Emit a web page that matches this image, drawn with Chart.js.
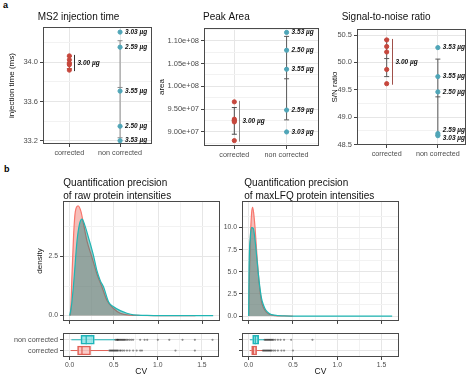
<!DOCTYPE html>
<html>
<head>
<meta charset="utf-8">
<script src="https://cdn.jsdelivr.net/npm/chart.js@4.4.1/dist/chart.umd.min.js"></script>
<style>
  body { margin: 0; background: #fff; width: 474px; height: 379px; position: relative; overflow: hidden; font-family: "Liberation Sans", Arial, sans-serif; }
  canvas { position: absolute; }
  .tag { position: absolute; font-weight: bold; font-size: 9px; line-height: 1; color: #000; }
</style>
</head>
<body>
<div class="tag" style="left:3px;top:1px">a</div>
<div class="tag" style="left:4px;top:165px">b</div>
<canvas id="ms2"></canvas>
<canvas id="area"></canvas>
<canvas id="sn"></canvas>
<canvas id="rawDens"></canvas>
<canvas id="lfqDens"></canvas>
<canvas id="rawBox"></canvas>
<canvas id="lfqBox"></canvas>
<script>
const groups = ['corrected', 'non corrected'];
const correctedLabel = '3.00 µg';

// a - MS2 injection time (ms)
const ms2Corrected = [34.065, 34.025, 33.99, 33.975, 33.92];
const ms2NonCorrected = [34.308, 34.154, 33.706, 33.347, 33.2];
const ms2NonLabels = ['3.03 µg', '2.59 µg', '3.55 µg', '2.50 µg', '3.53 µg'];
const ms2Mean = [33.995, 33.743];
const ms2Low = [33.935, 33.23];
const ms2High = [34.06, 34.22];
const ms2Ticks = [33.2, 33.6, 34.0];
const ms2Minor = [33.4, 33.8, 34.2];

// a - peak area
const areaCorrected = [9.66e7, 9.28e7, 9.25e7, 9.22e7, 8.81e7];
const areaNonCorrected = [1.1182e8, 1.0792e8, 1.0375e8, 9.48e7, 9.0e7];
const areaNonLabels = ['3.53 µg', '2.50 µg', '3.55 µg', '2.59 µg', '3.03 µg'];
const areaMean = [9.244e7, 1.0166e8];
const areaLow = [8.95e7, 9.265e7];
const areaHigh = [9.535e7, 1.1095e8];
const areaTicks = [9.0e7, 9.5e7, 1.0e8, 1.05e8, 1.1e8];
const areaMinor = [8.75e7, 9.25e7, 9.75e7, 1.025e8, 1.075e8, 1.125e8];

// a - signal-to-noise ratio
const snCorrected = [50.41, 50.29, 50.19, 49.87, 49.61];
const snNonCorrected = [50.27, 49.74, 49.46, 48.7, 48.66];
const snNonLabels = ['3.53 µg', '3.55 µg', '2.50 µg', '2.59 µg', '3.03 µg'];
const snMean = [50.07, 49.37];
const snLow = [49.74, 48.67];
const snHigh = [50.42, 50.06];
const snTicks = [48.5, 49.0, 49.5, 50.0, 50.5];
const snMinor = [48.75, 49.25, 49.75, 50.25];

// b - CV density curves
const cvTicks = [0, 0.5, 1.0, 1.5];
const cvMinor = [0.25, 0.75, 1.25];
const rawCorrX = [0, 0.008, 0.027, 0.045, 0.064, 0.095, 0.128, 0.158, 0.196, 0.252, 0.308, 0.365, 0.42, 0.495, 0.57, 0.67, 0.8, 1.0, 1.2, 1.42];
const rawCorrY = [0, 0.05, 1.76, 3.43, 4.4, 4.64, 4.4, 3.85, 3.15, 2.46, 1.76, 1.21, 0.65, 0.3, 0.1, 0.02, 0.005, 0, 0, 0];
const rawNonX = [0, 0.02, 0.045, 0.083, 0.113, 0.139, 0.169, 0.214, 0.27, 0.308, 0.346, 0.383, 0.44, 0.496, 0.571, 0.646, 0.72, 0.85, 1.0, 1.2, 1.4, 1.62];
const rawNonY = [0, 0.4, 1.35, 3.15, 3.9, 4.08, 3.85, 3.29, 2.53, 1.9, 1.48, 1.21, 0.58, 0.375, 0.21, 0.1, 0.03, 0.01, 0, 0, 0, 0];
const rawDensTicks = [0, 2.5];
const rawDensMinor = [1.25, 3.75];
const lfqCorrX = [0, 0.005, 0.019, 0.034, 0.045, 0.056, 0.072, 0.094, 0.12, 0.146, 0.169, 0.195, 0.233, 0.29, 0.4, 0.5];
const lfqCorrY = [0, 3, 8.6, 11.7, 12.27, 11.7, 10.0, 6.8, 3.6, 1.6, 0.9, 0.5, 0.2, 0.05, 0.01, 0];
const lfqNonX = [0, 0.004, 0.019, 0.034, 0.053, 0.072, 0.094, 0.12, 0.146, 0.169, 0.195, 0.233, 0.29, 0.4, 0.6, 0.8, 1.0, 1.2, 1.4, 1.62];
const lfqNonY = [0, 4.9, 8.95, 10.0, 9.88, 8.6, 6.4, 3.8, 1.96, 1.2, 0.66, 0.3, 0.1, 0.02, 0, 0, 0, 0, 0, 0];
const lfqDensTicks = [0, 2.5, 5, 7.5, 10];
const lfqDensMinor = [1.25, 3.75, 6.25, 8.75, 11.25];

// b - CV box plots: [whisker low, q1, median, q3, whisker high]
const rawBoxCorrected = [0.012, 0.09, 0.14, 0.237, 0.44];
const rawBoxNonCorrected = [0.02, 0.128, 0.188, 0.28, 0.515];
const rawOutCorrected = [0.45, 0.46, 0.47, 0.48, 0.49, 0.5, 0.51, 0.52, 0.53, 0.54, 0.55, 0.57, 0.58, 0.6, 0.62, 0.65, 0.68, 0.72, 0.76, 0.8, 0.82, 1.2, 1.42];
const rawOutNonCorrected = [0.52, 0.53, 0.54, 0.545, 0.55, 0.56, 0.57, 0.58, 0.59, 0.6, 0.61, 0.62, 0.63, 0.645, 0.66, 0.68, 0.7, 0.72, 0.8, 0.85, 0.88, 1.0, 1.13, 1.28, 1.42, 1.62];
const lfqBoxCorrected = [0.012, 0.034, 0.053, 0.09, 0.158];
const lfqBoxNonCorrected = [0.015, 0.045, 0.075, 0.113, 0.177];
const lfqOutCorrected = [0.16, 0.17, 0.18, 0.19, 0.2, 0.21, 0.22, 0.23, 0.24, 0.25, 0.26, 0.28, 0.3, 0.33, 0.37, 0.4, 0.5];
const lfqOutNonCorrected = [0.18, 0.19, 0.2, 0.21, 0.22, 0.23, 0.24, 0.25, 0.26, 0.27, 0.28, 0.3, 0.33, 0.36, 0.4, 0.48, 0.72];

const FONT = '"Liberation Sans", Arial, sans-serif';
const TXT = '#4d4d4d';
const GRID_MAJOR = '#e6e6e6';
const GRID_MINOR = '#f2f2f2';
const FRAME = '#4a4a4a';
const DOT_RED = '#c6473d';
const DOT_BLUE = '#4fa5b7';
const RED = '#F8766D';

Chart.defaults.font.family = FONT;

// grey border round the plot panel
const framePlugin = {
  id: 'frame',
  afterDatasetsDraw(chart) {
    const { ctx, chartArea: a } = chart;
    ctx.save();
    ctx.strokeStyle = FRAME;
    ctx.lineWidth = 1;
    ctx.strokeRect(Math.round(a.left) + 0.5, Math.round(a.top) + 0.5, Math.round(a.width) - 1, Math.round(a.height) - 1);
    ctx.restore();
  }
};

// left aligned panel title (one or two lines)
const titlePlugin = {
  id: 'panelTitle',
  afterDraw(chart, args, o) {
    if (!o || !o.lines) return;
    const ctx = chart.ctx;
    ctx.save();
    ctx.font = (o.size || 10) + 'px ' + FONT;
    ctx.fillStyle = '#111';
    ctx.textAlign = 'left';
    ctx.textBaseline = 'middle';
    o.lines.forEach((t, i) => ctx.fillText(t, o.x, o.y + i * (o.lead || 12.5)));
    ctx.restore();
  }
};

// amount labels next to the points, plus the bracket beside the corrected group
const dotLabelPlugin = {
  id: 'dotLabels',
  afterDatasetsDraw(chart, args, o) {
    if (!o || !o.values) return;
    const { ctx, scales: { x, y } } = chart;
    ctx.save();
    const bx = Math.round(x.getPixelForValue(1) + 5) + 0.5;
    const y0 = y.getPixelForValue(Math.min(...o.corrected));
    const y1 = y.getPixelForValue(Math.max(...o.corrected));
    ctx.strokeStyle = o.braceColor;
    ctx.lineWidth = 1;
    ctx.beginPath();
    ctx.moveTo(bx, y0 + 1);
    ctx.lineTo(bx, y1 - 1);
    ctx.stroke();
    ctx.font = 'italic bold 6.5px ' + FONT;
    ctx.fillStyle = '#111';
    ctx.textBaseline = 'middle';
    ctx.fillText(correctedLabel, bx + 3, (y0 + y1) / 2);
    const nx = x.getPixelForValue(2) + 5;
    o.values.forEach((v, i) => ctx.fillText(o.labels[i], nx, y.getPixelForValue(v) + (o.nudge ? o.nudge[i] : 0)));
    ctx.restore();
  }
};

Chart.register(framePlugin, titlePlugin, dotLabelPlugin);

function place(id, cv) {
  const c = document.getElementById(id);
  c.width = cv.w;
  c.height = cv.h;
  c.style.left = cv.x + 'px';
  c.style.top = cv.y + 'px';
  return c;
}

function base(cv, area, plugins) {
  return {
    responsive: false,
    animation: false,
    events: [],
    layout: { padding: { left: 0, top: area.t - cv.y, right: cv.x + cv.w - area.r, bottom: 0 } },
    plugins: Object.assign({ legend: { display: false }, tooltip: { enabled: false } }, plugins)
  };
}

function axis({ min, max, major, minor = [], label = () => '', size, title, titlePad, font = 7, tickLen = 3, pad = 2 }) {
  const all = major.map(v => ({ value: v })).concat(minor.map(v => ({ value: v, minor: true })))
    .sort((a, b) => a.value - b.value);
  return {
    type: 'linear', min, max, offset: false,
    afterBuildTicks: s => { s.ticks = all.map(t => Object.assign({}, t)); },
    afterFit: s => { if (s.isHorizontal()) s.height = size; else s.width = size; },
    border: { display: false },
    grid: {
      offset: false,
      color: c => (c.tick && c.tick.minor ? GRID_MINOR : GRID_MAJOR),
      tickColor: c => (c.tick && c.tick.minor ? 'rgba(0,0,0,0)' : '#444'),
      tickLength: tickLen,
      lineWidth: 1
    },
    ticks: {
      autoSkip: false, maxRotation: 0, minRotation: 0, padding: pad, color: TXT,
      font: { family: FONT, size: font },
      callback: (v, i, t) => (t[i] && t[i].minor ? '' : label(v))
    },
    title: title
      ? { display: true, text: title, color: '#111', font: { family: FONT, size: 8 }, padding: titlePad }
      : { display: false }
  };
}

function dotChart(id, cv, area, d) {
  const ds = [
    { data: d.corrected.map(v => ({ x: 1, y: v })), pointBackgroundColor: DOT_RED, pointBorderColor: DOT_RED, pointRadius: 2.1, order: 0 },
    { data: d.non.map(v => ({ x: 2, y: v })), pointBackgroundColor: DOT_BLUE, pointBorderColor: DOT_BLUE, pointRadius: 2.1, order: 0 }
  ];
  groups.forEach((g, i) => ds.push({
    data: [{ x: i + 1, y: d.low[i] }, { x: i + 1, y: d.high[i] }],
    showLine: true, borderColor: d.err[i], borderWidth: 1,
    pointStyle: 'line', pointRadius: 2.5, pointBorderColor: d.err[i], pointBorderWidth: 1, order: 2
  }));
  ds.push({ data: d.mean.map((m, i) => ({ x: i + 1, y: m })), pointStyle: 'line', pointRadius: 2.5, pointBorderColor: d.err, pointBorderWidth: 1, order: 1 });

  const opts = base(cv, area, {
    panelTitle: { lines: [d.title], x: d.titleX - cv.x, y: 17 - cv.y },
    dotLabels: { corrected: d.corrected, values: d.non, labels: d.labels, nudge: d.nudge, braceColor: d.brace }
  });
  opts.scales = {
    x: axis({ min: d.xMin, max: d.xMax, major: [1, 2], label: v => groups[v - 1], size: cv.y + cv.h - area.b, font: 7.2 }),
    y: axis({ min: d.yMin, max: d.yMax, major: d.ticks, minor: d.minor, label: d.fmt, size: area.l - cv.x, font: 7.5,
              title: d.yTitle, titlePad: { top: d.yTitleX - cv.x - 4.8, bottom: 0 } })
  };
  new Chart(place(id, cv), { type: 'scatter', data: { datasets: ds }, options: opts });
}

const curve = (xs, ys) => xs.map((x, i) => ({ x, y: ys[i] }));

function densityChart(id, cv, area, d) {
  const opts = base(cv, area, { panelTitle: { lines: d.title, x: d.titleX - cv.x, y: 183.5 - cv.y, lead: 12.5 } });
  opts.elements = { point: { radius: 0 }, line: { borderWidth: 1.2, cubicInterpolationMode: 'monotone' } };
  opts.scales = {
    x: axis({ min: -0.075, max: 1.697, major: cvTicks, minor: cvMinor, size: cv.y + cv.h - area.b }),
    y: axis({ min: d.yMin, max: d.yMax, major: d.ticks, minor: d.minor, label: v => v.toFixed(1), size: area.l - cv.x,
              font: 6.8, title: d.yTitle, titlePad: { top: (d.yTitleX || 0) - cv.x - 4.8, bottom: 0 } })
  };
  new Chart(place(id, cv), {
    type: 'line',
    data: { datasets: [
      { data: curve(d.nonX, d.nonY), borderColor: '#1fb5b3', backgroundColor: 'rgba(0,125,120,0.4)', fill: 'origin', order: 0 },
      { data: curve(d.corrX, d.corrY), borderColor: RED, backgroundColor: 'rgba(236,110,100,0.45)', fill: 'origin', order: 1 }
    ] },
    options: opts
  });
}

function boxChart(id, cv, area, boxes, outliers, showLabels, titleCV) {
  const line = ['#de5f55', '#22b3b7'];
  const fill = ['rgba(248,118,109,0.38)', 'rgba(0,191,196,0.38)'];
  const ds = [{
    type: 'bar', indexAxis: 'y',
    data: boxes.map((b, i) => ({ y: i + 1, x: [b[1], b[3]] })),
    backgroundColor: fill, borderColor: line, borderWidth: 1, borderSkipped: false, barThickness: 9, order: 1
  }];
  boxes.forEach((b, i) => ds.push({
    type: 'scatter', showLine: true, spanGaps: false,
    data: [{ x: b[0], y: i + 1 }, { x: b[1], y: i + 1 }, { x: null, y: null }, { x: b[3], y: i + 1 }, { x: b[4], y: i + 1 }],
    borderColor: line[i], borderWidth: 1, pointRadius: 0, order: 2
  }));
  ds.push({
    type: 'scatter', data: boxes.map((b, i) => ({ x: b[2], y: i + 1 })),
    pointStyle: 'line', pointRotation: 90, pointRadius: 4.5, pointBorderColor: line, pointBorderWidth: 1.2, order: 0
  });
  outliers.forEach((arr, i) => ds.push({
    type: 'scatter', data: arr.map(v => ({ x: v, y: i + 1 })),
    pointRadius: 1.1, pointBackgroundColor: 'rgba(0,0,0,0.4)', pointBorderWidth: 0, order: 0
  }));
  const opts = base(cv, area, {});
  opts.scales = {
    x: axis({ min: -0.075, max: 1.697, major: cvTicks, minor: cvMinor, label: v => v.toFixed(1), size: cv.y + cv.h - area.b,
              font: 6.8, pad: 1, title: titleCV, titlePad: { top: 0, bottom: 2 } }),
    y: axis({ min: 0.4, max: 2.6, major: [1, 2], label: showLabels ? v => groups[v - 1] : () => '', size: area.l - cv.x, font: 7.2 })
  };
  opts.scales.x.title.font = { family: FONT, size: 8.5 };
  new Chart(place(id, cv), { type: 'scatter', data: { datasets: ds }, options: opts });
}

dotChart('ms2', { x: 0, y: 10, w: 160, h: 150 }, { l: 43, t: 27, r: 152, b: 144 }, {
  corrected: ms2Corrected, non: ms2NonCorrected, labels: ms2NonLabels, mean: ms2Mean, low: ms2Low, high: ms2High,
  ticks: ms2Ticks, minor: ms2Minor, fmt: v => v.toFixed(1), yMin: 33.166, yMax: 34.36, xMin: 0.48, xMax: 2.63,
  title: 'MS2 injection time', titleX: 37.7, yTitle: 'injection time (ms)', yTitleX: 11.7,
  err: ['#a8483f', '#8c8c8c'], brace: '#333'
});
dotChart('area', { x: 150, y: 10, w: 180, h: 150 }, { l: 204, t: 28, r: 319, b: 146 }, {
  corrected: areaCorrected, non: areaNonCorrected, labels: areaNonLabels, mean: areaMean, low: areaLow, high: areaHigh,
  ticks: areaTicks, minor: areaMinor, fmt: v => v.toExponential(2).replace(/e\+(\d)$/, 'e+0$1'),
  yMin: 8.692e7, yMax: 1.1279e8, xMin: 0.42, xMax: 2.62,
  title: 'Peak Area', titleX: 203, yTitle: 'area', yTitleX: 162,
  err: ['#4d4d4d', '#595959'], brace: '#8a8a8a'
});
dotChart('sn', { x: 326, y: 10, w: 148, h: 150 }, { l: 357, t: 29, r: 466, b: 145 }, {
  corrected: snCorrected, non: snNonCorrected, labels: snNonLabels, mean: snMean, low: snLow, high: snHigh,
  ticks: snTicks, minor: snMinor, fmt: v => v.toFixed(1), yMin: 48.49, yMax: 50.61, xMin: 0.42, xMax: 2.55,
  title: 'Signal-to-noise ratio', titleX: 341.7, yTitle: 'S/N ratio', yTitleX: 335,
  err: ['#595959', '#595959'], brace: '#a0504a', nudge: [0, 0, 0, -3, 2.5]
});

densityChart('rawDens', { x: 20, y: 172, w: 205, h: 155 }, { l: 63, t: 201, r: 220, b: 323 }, {
  corrX: rawCorrX, corrY: rawCorrY, nonX: rawNonX, nonY: rawNonY, ticks: rawDensTicks, minor: rawDensMinor,
  yMin: -0.225, yMax: 4.85, title: ['Quantification precision', 'of raw protein intensities'], titleX: 63.3,
  yTitle: 'density', yTitleX: 39.3
});
densityChart('lfqDens', { x: 215, y: 172, w: 190, h: 155 }, { l: 242, t: 201, r: 399, b: 323 }, {
  corrX: lfqCorrX, corrY: lfqCorrY, nonX: lfqNonX, nonY: lfqNonY, ticks: lfqDensTicks, minor: lfqDensMinor,
  yMin: -0.55, yMax: 13.0, title: ['Quantification precision', 'of maxLFQ protein intensities'], titleX: 244.3
});

boxChart('rawBox', { x: 0, y: 327, w: 225, h: 52 }, { l: 63, t: 331, r: 220, b: 357 },
  [rawBoxCorrected, rawBoxNonCorrected], [rawOutCorrected, rawOutNonCorrected], true, 'CV');
boxChart('lfqBox', { x: 215, y: 327, w: 190, h: 52 }, { l: 242, t: 331, r: 399, b: 357 },
  [lfqBoxCorrected, lfqBoxNonCorrected], [lfqOutCorrected, lfqOutNonCorrected], false, 'CV');
</script>
</body>
</html>
